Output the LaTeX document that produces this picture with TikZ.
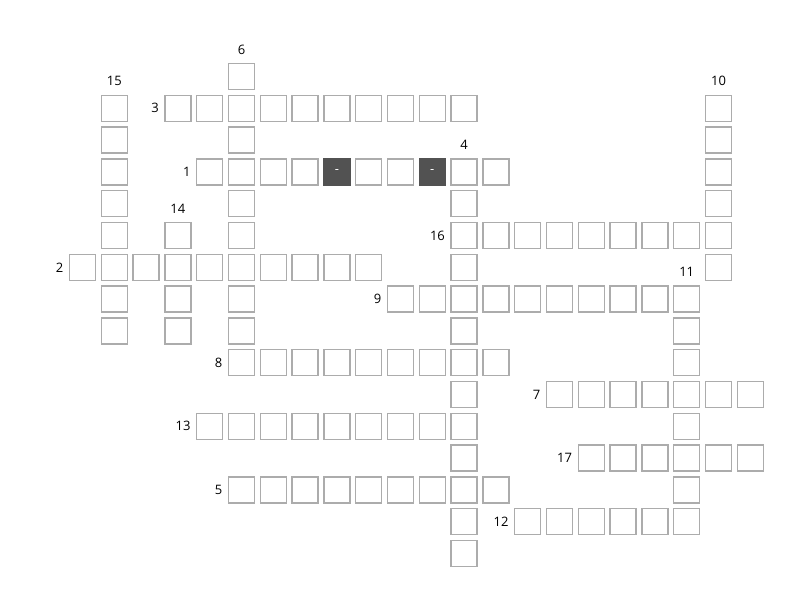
\documentclass[tikz,border=0pt]{standalone}
\usepackage{fontspec}
\setmainfont{Open Sans}
\begin{document}
\begin{tikzpicture}[x=1pt,y=-1pt,
  cellbox/.style={draw=gray!65,line width=1.3pt,minimum size=26pt,inner sep=0pt,fill=white},
  darkbox/.style={cellbox,fill=black!68,draw=black!68,text=white,font=\fontsize{13}{13}\selectfont},
  num/.style={font=\fontsize{13}{13}\selectfont,inner sep=0pt}]
\useasboundingbox (0,0) rectangle (800,600);
\newcommand{\cx}[1]{82.5+31.8*#1}
\newcommand{\cy}[1]{76.5+31.8*#1}
% across words: row/first col/last col
\foreach \r/\a/\b in {1/3/12, 3/4/13, 5/12/20, 6/0/9, 7/10/19, 9/5/13, 10/15/21, 11/4/12, 12/16/21, 13/5/13, 14/14/19}{
  \foreach \c in {\a,...,\b}{\node[cellbox] (c-\c-\r) at ({\cx{\c}},{\cy{\r}}) {};}
}
% down words: col/first row/last row
\foreach \c/\a/\b in {5/0/8, 1/1/8, 20/1/6, 12/3/15, 3/5/8, 19/7/14}{
  \foreach \r in {\a,...,\b}{\node[cellbox] (c-\c-\r) at ({\cx{\c}},{\cy{\r}}) {};}
}
\node[darkbox] (d1) at ({\cx{8}},{\cy{3}}) {-};
\node[darkbox] (d2) at ({\cx{11}},{\cy{3}}) {-};
% across labels
\foreach \n/\c/\r in {3/3/1, 1/4/3, 16/12/5, 2/0/6, 9/10/7, 8/5/9, 7/15/10, 13/4/11, 17/16/12, 5/5/13, 12/14/14}{
  \node[num,anchor=east] (l\n) at ({\cx{\c}-19},{\cy{\r}}) {\n};
}
% down labels
\foreach \n/\c/\r in {6/5/0, 15/1/1, 10/20/1, 4/12/3, 14/3/5, 11/19/7}{
  \node[num] (l\n) at ({\cx{\c}},{\cy{\r}-27}) {\n};
}
\end{tikzpicture}
\end{document}
